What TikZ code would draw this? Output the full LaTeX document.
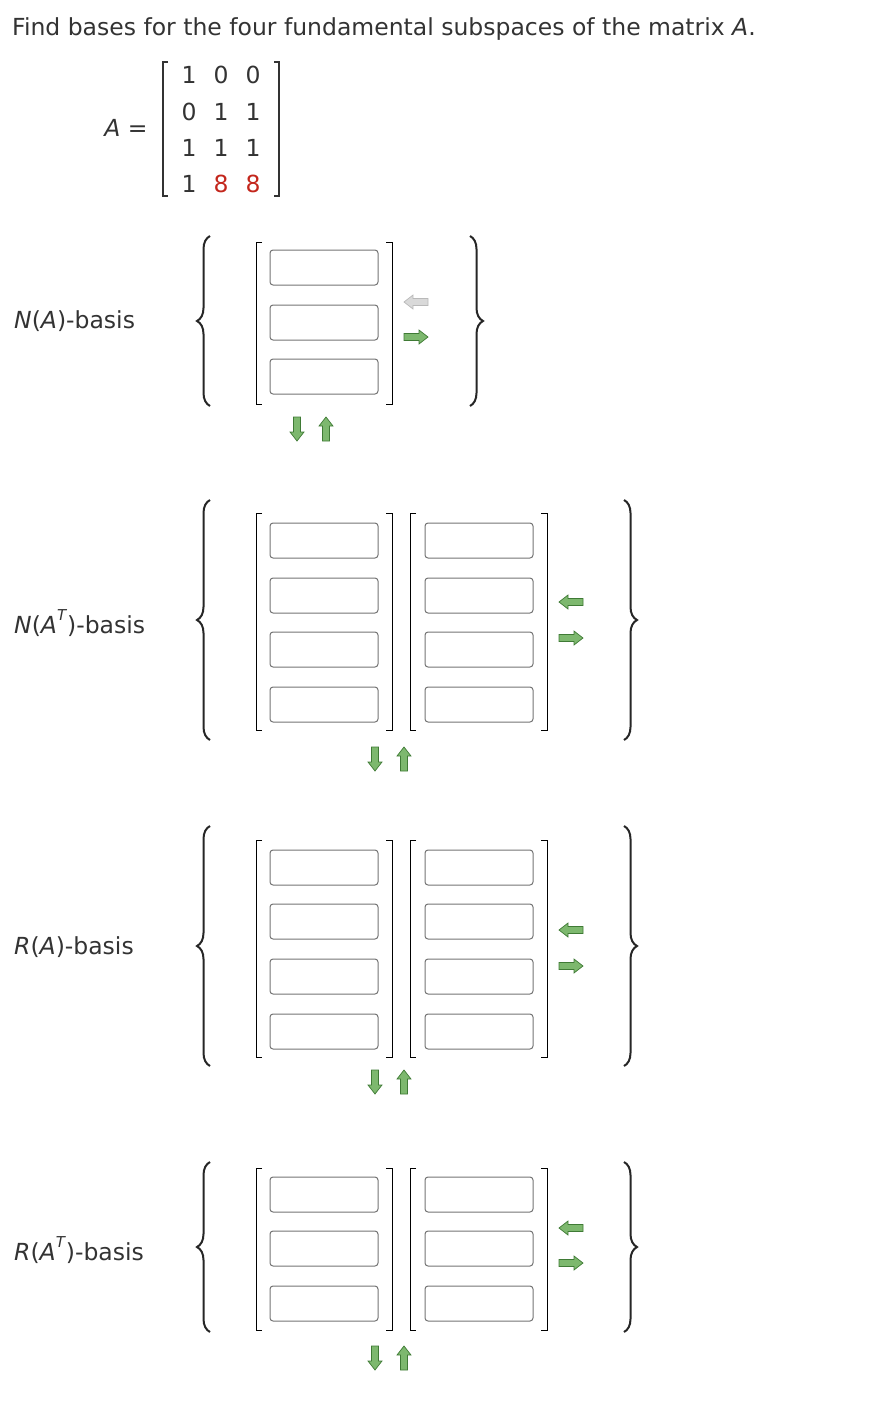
\documentclass[tikz,border=0pt]{standalone}
\usepackage{fontspec}
\setmainfont{DejaVu Sans}
\usetikzlibrary{decorations.pathreplacing}
\definecolor{txt}{HTML}{333333}
\definecolor{redn}{HTML}{C3261C}
\definecolor{gfill}{HTML}{7DB86E}
\definecolor{gdraw}{HTML}{3F7A35}
\tikzset{
 every node/.style={text=txt,font=\fontsize{23.5}{28}\selectfont,inner sep=0pt},
 lbl/.style={anchor=west},
 inbox/.style={draw=gray!90!black,rounded corners=3pt,line width=1pt},
 brk/.style={draw=black,line width=0.9pt},
 brc/.style={draw=black!85,line width=2pt,decorate,decoration={brace,amplitude=13pt,aspect=0.5}},
 harrow/.pic={\path[pic actions] (-12,-3.5)--(3,-3.5)--(3,-7)--(12,0)--(3,7)--(3,3.5)--(-12,3.5)--cycle;},
 garr/.style={fill=gfill,draw=gdraw,line width=0.7pt},
 grayarr/.style={fill=gray!30,draw=gray!55,line width=0.7pt}
}
\newcommand\lbr[3]{% x, top, bottom
 \draw[brk] (#1+6,#2)--(#1,#2)--(#1,#3)--(#1+6,#3);}
\newcommand\rbr[3]{%
 \draw[brk] (#1-6,#2)--(#1,#2)--(#1,#3)--(#1-6,#3);}
\newcommand\ibox[2]{\draw[inbox] (#1,#2) rectangle ++(108,35);}
\newcommand\supT{\raisebox{0.55em}{\fontsize{15}{18}\selectfont\textit{T}}}
\begin{document}
\begin{tikzpicture}[x=1pt,y=-1pt]
\useasboundingbox (0,0) rectangle (892,1422);
\node[lbl,anchor=base west] (title) at (12,35) {Find bases for the four fundamental subspaces of the matrix \textit{A}.};
% matrix A
\node (aeq) at (126,128) {\textit{A} =};
\draw[brk,draw=txt,line width=1.4pt] (168,62)--(163,62)--(163,196)--(168,196);
\draw[brk,draw=txt,line width=1.4pt] (274,62)--(279,62)--(279,196)--(274,196);
\foreach \r/\a/\b/\c [count=\i] in {75/1/0/0,112/0/1/1,148/1/1/1}{
 \node (m\i a) at (189,\r) {\a}; \node (m\i b) at (221,\r) {\b}; \node (m\i c) at (253,\r) {\c};}
\node (m4a) at (189,184) {1};
\node[text=redn] (m4b) at (221,184) {8};
\node[text=redn] (m4c) at (253,184) {8};
% N(A)
\node[lbl] (l1) at (14,321) {\textit{N}(\textit{A})-basis};
\draw[brc] (210,406)--(210,236);
\draw[brc] (470,236)--(470,406);
\lbr{256}{242}{404}\rbr{392}{242}{404}
\foreach \y in {250,305,359}{\ibox{270}{\y}}
\pic[grayarr,rotate=180] at (416,302) {harrow};
\pic[garr] at (416,337) {harrow};
\pic[garr,rotate=-90] at (297,429) {harrow};
\pic[garr,rotate=90] at (326,429) {harrow};
% N(A^T)
\node[lbl] (l2) at (14,623) {\textit{N}(\textit{A}\supT)-basis};
\draw[brc] (210,740)--(210,500);
\draw[brc] (624,500)--(624,740);
\lbr{256}{513}{730}\rbr{392}{513}{730}\lbr{410}{513}{730}\rbr{547}{513}{730}
\foreach \y in {523,578,632,687}{\ibox{270}{\y}\ibox{425}{\y}}
\pic[garr,rotate=180] at (571,602) {harrow};
\pic[garr] at (571,638) {harrow};
\pic[garr,rotate=-90] at (375,759) {harrow};
\pic[garr,rotate=90] at (404,759) {harrow};
% R(A)
\node[lbl] (l3) at (14,947) {\textit{R}(\textit{A})-basis};
\draw[brc] (210,1066)--(210,826);
\draw[brc] (624,826)--(624,1066);
\lbr{256}{840}{1057}\rbr{392}{840}{1057}\lbr{410}{840}{1057}\rbr{547}{840}{1057}
\foreach \y in {850,904,959,1014}{\ibox{270}{\y}\ibox{425}{\y}}
\pic[garr,rotate=180] at (571,930) {harrow};
\pic[garr] at (571,966) {harrow};
\pic[garr,rotate=-90] at (375,1082) {harrow};
\pic[garr,rotate=90] at (404,1082) {harrow};
% R(A^T)
\node[lbl] (l4) at (14,1250) {\textit{R}(\textit{A}\supT)-basis};
\draw[brc] (210,1332)--(210,1162);
\draw[brc] (624,1162)--(624,1332);
\lbr{256}{1168}{1330}\rbr{392}{1168}{1330}\lbr{410}{1168}{1330}\rbr{547}{1168}{1330}
\foreach \y in {1177,1231,1286}{\ibox{270}{\y}\ibox{425}{\y}}
\pic[garr,rotate=180] at (571,1228) {harrow};
\pic[garr] at (571,1263) {harrow};
\pic[garr,rotate=-90] at (375,1358) {harrow};
\pic[garr,rotate=90] at (404,1358) {harrow};
\end{tikzpicture}
\end{document}
